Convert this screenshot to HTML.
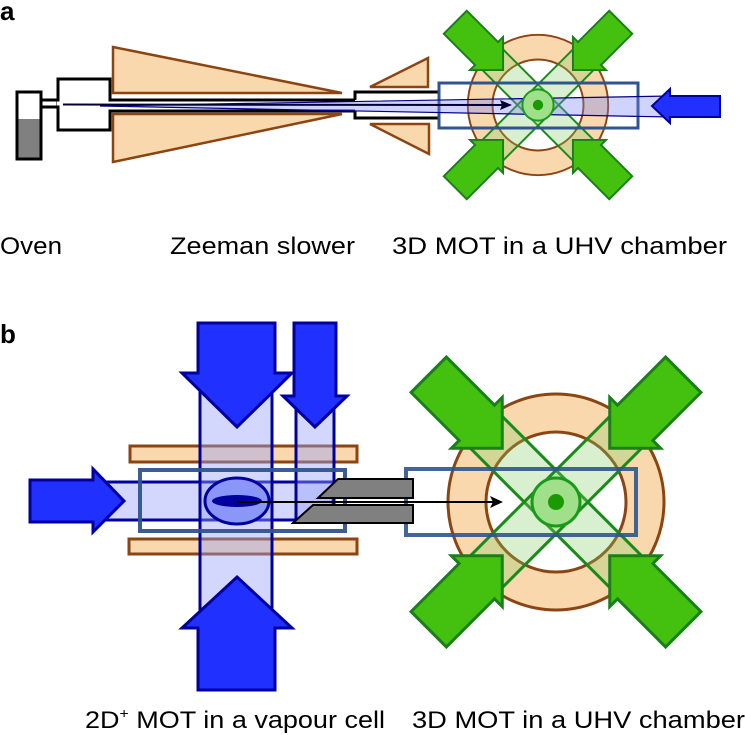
<!DOCTYPE html>
<html><head><meta charset="utf-8"><style>
html,body{margin:0;padding:0;background:#fff}
svg{display:block}
text{font-family:"Liberation Sans",sans-serif;fill:#000}
</style></head><body>
<svg width="745" height="735" viewBox="0 0 745 735" xmlns="http://www.w3.org/2000/svg">
<defs>
  <g id="beam">
    <rect x="-112" y="-22.5" width="224" height="45" fill="rgba(130,205,100,0.3)"/>
    <line x1="-112" y1="-22.5" x2="112" y2="-22.5" stroke="#1a8a1a" stroke-width="3"/>
    <line x1="-112" y1="22.5" x2="112" y2="22.5" stroke="#1a8a1a" stroke-width="3"/>
  </g>
  <g id="arr">
    <polygon points="-76,0 -112,-36 -112,-25 -180,-25 -180,25 -112,25 -112,36" fill="#44c00e" stroke="#1a7f1a" stroke-width="3" stroke-linejoin="miter"/>
  </g>
  <g id="ring">
    <circle r="89" fill="none" stroke="#f8d8ac" stroke-width="38"/>
    <circle r="108" fill="none" stroke="#8b4513" stroke-width="3"/>
    <circle r="70" fill="none" stroke="#8b4513" stroke-width="3"/>
  </g>
  <g id="beams">
    <g transform="rotate(45)"><use href="#beam"/></g>
    <g transform="rotate(-45)"><use href="#beam"/></g>
  </g>
  <g id="arrows">
    <g transform="rotate(45)"><use href="#arr"/><g transform="scale(-1,1)"><use href="#arr"/></g></g>
    <g transform="rotate(-45)"><use href="#arr"/><g transform="scale(-1,1)"><use href="#arr"/></g></g>
  </g>
  <g id="center">
    <circle r="24" fill="#a0e08a" stroke="#1a9a1a" stroke-width="3"/>
    <circle r="8" fill="#1a9a00"/>
  </g>
</defs>

<text x="0" y="20" font-size="26" font-weight="bold">a</text>
<text x="0" y="343" font-size="26" font-weight="bold">b</text>

<!-- ===== Panel a ===== -->
<rect x="17" y="92" width="24" height="67" fill="#fff" stroke="#000" stroke-width="3"/>
<rect x="18.5" y="119" width="21" height="38.5" fill="#808080"/>
<path d="M41,100 H58 M41,107 H58" stroke="#000" stroke-width="3"/>
<rect x="58" y="79" width="52" height="51" fill="#fff" stroke="#000" stroke-width="3"/>
<rect x="57" y="101.5" width="4" height="4" fill="#fff"/>
<path d="M110,100 H355 M110,111 H355" stroke="#000" stroke-width="3"/>
<rect x="108" y="101.5" width="4" height="8" fill="#fff"/>
<path d="M355,100 V92 H440 M355,111 V118 H440" fill="none" stroke="#000" stroke-width="3"/>
<polygon points="113,47 113,93 342,93" fill="#f8d8ac" stroke="#8b4513" stroke-width="2.5"/>
<polygon points="113,114 342,114 113,162" fill="#f8d8ac" stroke="#8b4513" stroke-width="2.5"/>
<polygon points="370,87 428,58 428,87" fill="#f8d8ac" stroke="#8b4513" stroke-width="2.5"/>
<polygon points="370,124 429,124 429,154" fill="#f8d8ac" stroke="#8b4513" stroke-width="2.5"/>
<g transform="translate(538,105) scale(0.65)">
  <use href="#ring"/>
  <use href="#beams"/>
</g>
<rect x="439" y="83" width="199" height="45" fill="none" stroke="#2f5490" stroke-width="3"/>
<polygon points="670,96 670,117 100,106" fill="rgba(120,130,250,0.35)" stroke="#00008b" stroke-width="1.2"/>
<line x1="63" y1="104.5" x2="505" y2="105" stroke="#000033" stroke-width="2"/>
<polygon points="512,105 500,100 502,105 500,110" fill="#000033"/>
<g transform="translate(538,105) scale(0.65)">
  <use href="#arrows"/>
  <use href="#center"/>
</g>
<polygon points="652,106 670,89 670,96 720,96 720,117 670,117 670,123" fill="#2030ff" stroke="#0000a0" stroke-width="2"/>

<text x="0" y="254" font-size="24" textLength="62" lengthAdjust="spacingAndGlyphs">Oven</text>
<text x="170" y="254" font-size="24" textLength="185" lengthAdjust="spacingAndGlyphs">Zeeman slower</text>
<text x="392" y="254" font-size="24" textLength="335" lengthAdjust="spacingAndGlyphs">3D MOT in a UHV chamber</text>

<!-- ===== Panel b ===== -->
<rect x="130" y="446" width="227" height="16" fill="#f8d8ac" stroke="#8b4513" stroke-width="3"/>
<rect x="129" y="539" width="228" height="15" fill="#f8d8ac" stroke="#8b4513" stroke-width="3"/>
<rect x="93" y="482" width="240" height="38" fill="rgba(150,160,250,0.42)" stroke="#0000a0" stroke-width="3"/>
<rect x="200" y="373" width="72" height="255" fill="rgba(150,160,250,0.42)" stroke="#0000a0" stroke-width="3"/>
<rect x="296" y="396" width="38" height="124" fill="rgba(150,160,250,0.42)" stroke="#0000a0" stroke-width="3"/>
<rect x="140" y="470" width="205" height="61" fill="none" stroke="#2f5490" stroke-width="4" opacity="0.95"/>
<ellipse cx="237" cy="501" rx="32" ry="23" fill="#8a96f8" stroke="#0000a0" stroke-width="3"/>
<ellipse cx="237" cy="501" rx="25" ry="6" fill="#0000a0"/>
<polygon points="30,480 93,480 93,469 124,501 93,532 93,522 30,522" fill="#2030ff" stroke="#0000a0" stroke-width="3"/>
<polygon points="198,323 275,323 275,373 292,373 237,427 182,373 198,373" fill="#2030ff" stroke="#0000a0" stroke-width="3"/>
<polygon points="294,323 336,323 336,396 347,396 315,427 283,396 294,396" fill="#2030ff" stroke="#0000a0" stroke-width="3"/>
<polygon points="237,577 292,628 275,628 275,690 198,690 198,628 182,628" fill="#2030ff" stroke="#0000a0" stroke-width="3"/>
<g transform="translate(556,502)">
  <use href="#ring"/>
  <use href="#beams"/>
</g>
<rect x="406" y="469" width="230" height="66" fill="none" stroke="#2f5490" stroke-width="4" opacity="0.9"/>
<polygon points="318,498 338,479 413,479 413,498" fill="#808080" stroke="#000" stroke-width="2"/>
<polygon points="293,523 313,505 413,505 413,523" fill="#808080" stroke="#000" stroke-width="2"/>
<line x1="237" y1="502" x2="494" y2="502" stroke="#000" stroke-width="2"/>
<polygon points="503,502 490,496 493,502 490,508" fill="#000"/>
<g transform="translate(556,502)">
  <use href="#arrows"/>
  <use href="#center"/>
</g>

<text x="85" y="728" font-size="24" textLength="300" lengthAdjust="spacingAndGlyphs">2D<tspan font-size="14" dy="-10">+</tspan><tspan dy="10"> MOT in a vapour cell</tspan></text>
<text x="412" y="728" font-size="24" textLength="333" lengthAdjust="spacingAndGlyphs">3D MOT in a UHV chamber</text>
</svg>
</body></html>
